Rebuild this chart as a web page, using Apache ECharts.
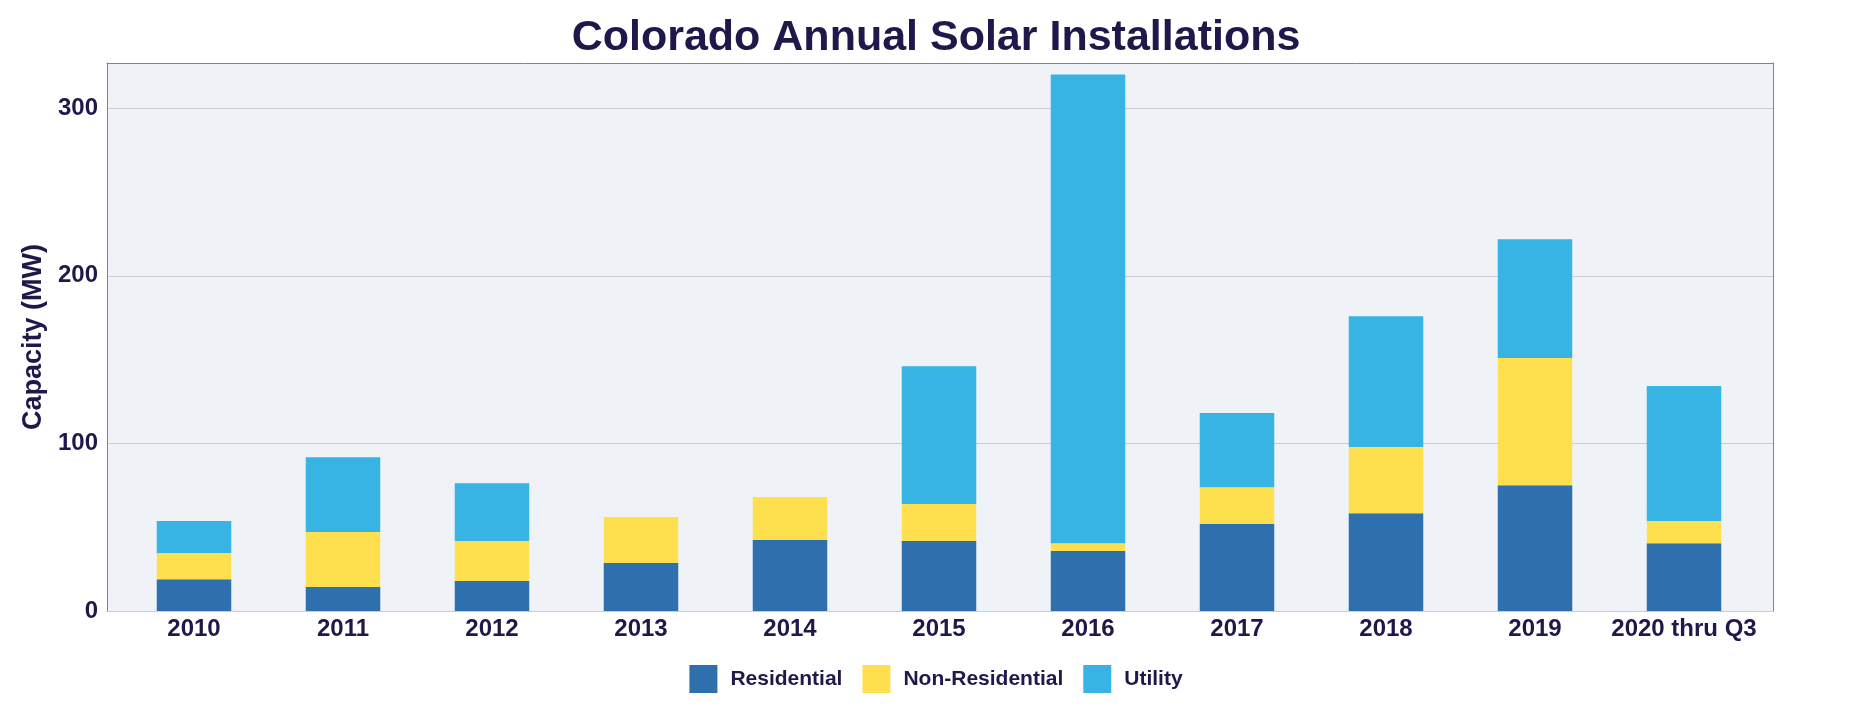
<!DOCTYPE html>
<html>
<head>
<meta charset="utf-8">
<title>Colorado Annual Solar Installations</title>
<script src="https://cdn.jsdelivr.net/npm/echarts@6/dist/echarts.min.js"></script>
<style>
  html, body { margin: 0; padding: 0; background: #fff; }
  #chart { width: 1872px; height: 720px; }
</style>
</head>
<body>
<div id="chart"></div>
<script>
// categories and stacked values (MW)
var YEARS = ['2010', '2011', '2012', '2013', '2014', '2015', '2016', '2017', '2018', '2019', '2020 thru Q3'];
var RESIDENTIAL = [19.0, 14.3, 17.9, 28.6, 42.3, 41.7, 35.8, 51.9, 58.4, 75.1, 40.5];
var NON_RESIDENTIAL = [15.6, 32.8, 23.8, 27.5, 25.7, 22.1, 4.7, 22.0, 39.4, 75.8, 13.2];
var UTILITY = [19.1, 44.7, 34.6, 0, 0, 82.3, 279.7, 44.2, 78.1, 70.9, 80.5];
var Y_TICKS = [0, 100, 200, 300];

var TEXT_COLOR = '#21174a';
var FONT = '"Liberation Sans", Arial, sans-serif';
var FRAME = '#7a8594';
var Y_MAX = 327;

var myChart = echarts.init(document.getElementById('chart'));

// frame edges drawn as bare axis lines (no labels, no ticks)
function frameAxis(grid, pos, color, max) {
    return {
        gridIndex: grid, type: 'value', position: pos, min: 0, max: max,
        axisLine: { show: true, onZero: false, lineStyle: { color: color, width: 1 } },
        axisTick: { show: false }, axisLabel: { show: false }, splitLine: { show: false }
    };
}

var option = {
    backgroundColor: '#ffffff',
    textStyle: { fontFamily: FONT },
    title: {
        text: 'Colorado Annual Solar Installations',
        left: 'center',
        top: 12,
        textStyle: { fontSize: 43, fontWeight: 'bold', color: TEXT_COLOR, fontFamily: FONT }
    },
    legend: {
        data: ['Residential', 'Non-Residential', 'Utility'],
        bottom: 27,
        left: 'center',
        padding: 0,
        icon: 'rect',
        itemWidth: 28,
        itemHeight: 28,
        itemGap: 20,
        textStyle: { fontSize: 21, fontWeight: 'bold', color: TEXT_COLOR, fontFamily: FONT, padding: [0, 0, 0, 8] }
    },
    grid: [
        // frame with background, spans the full plot box
        { left: 107, right: 99, top: 63, bottom: 109, show: true, backgroundColor: '#eff3f8', borderWidth: 0 },
        // bars, inset like the reference categories
        { left: 119.5, right: 113.5, top: 63, bottom: 109 }
    ],
    xAxis: [
        frameAxis(0, 'bottom', '#c8ccd3', 1),
        frameAxis(0, 'top', FRAME, 1),
        { gridIndex: 1, type: 'category', data: YEARS,
          axisLine: { show: false }, axisTick: { show: false },
          axisLabel: { fontSize: 24, fontWeight: 'bold', color: TEXT_COLOR, fontFamily: FONT, margin: 6, interval: 0 } }
    ],
    yAxis: [
        { gridIndex: 0, type: 'value', position: 'left', min: 0, max: Y_MAX, interval: 100,
          name: 'Capacity (MW)', nameLocation: 'middle', nameGap: 56,
          nameTextStyle: { fontSize: 27, fontWeight: 'bold', color: TEXT_COLOR, fontFamily: FONT },
          axisLine: { show: true, onZero: false, lineStyle: { color: FRAME, width: 1 } },
          axisTick: { show: false },
          axisLabel: { fontSize: 24, fontWeight: 'bold', color: TEXT_COLOR, fontFamily: FONT, margin: 9,
                       showMaxLabel: false,
                       formatter: function (v) { return Y_TICKS.indexOf(v) >= 0 ? String(v) : ''; } },
          splitLine: { show: true, showMinLine: false, showMaxLine: false, lineStyle: { color: '#c9cdd3', width: 1 } } },
        frameAxis(0, 'right', FRAME, Y_MAX),
        { gridIndex: 1, type: 'value', min: 0, max: Y_MAX, show: false }
    ],
    series: [
        { name: 'Residential', type: 'bar', stack: 'cap', xAxisIndex: 2, yAxisIndex: 2,
          barWidth: '50%', itemStyle: { color: '#2e6fae' }, data: RESIDENTIAL },
        { name: 'Non-Residential', type: 'bar', stack: 'cap', xAxisIndex: 2, yAxisIndex: 2,
          barWidth: '50%', itemStyle: { color: '#fee04e' }, data: NON_RESIDENTIAL },
        { name: 'Utility', type: 'bar', stack: 'cap', xAxisIndex: 2, yAxisIndex: 2,
          barWidth: '50%', itemStyle: { color: '#37b3e4' }, data: UTILITY }
    ]
};

myChart.setOption(option, true);
</script>
</body>
</html>
